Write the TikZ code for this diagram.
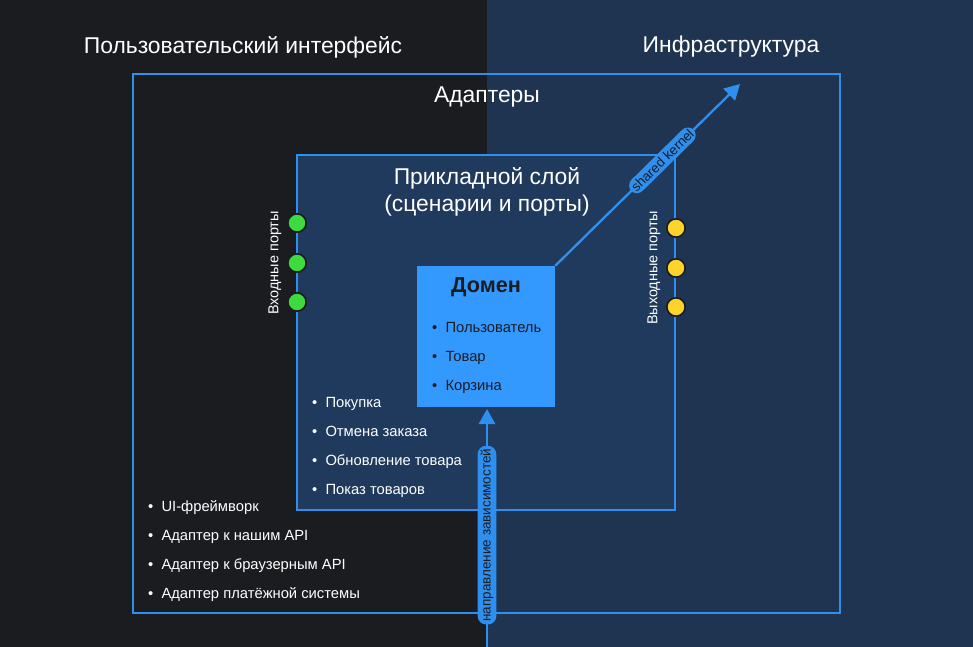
\documentclass[tikz,border=0pt]{standalone}
\usepackage{fontspec}
\setmainfont{Liberation Sans}
\usetikzlibrary{arrows.meta,positioning}
\definecolor{bgleft}{HTML}{1B1C20}
\definecolor{bgright}{HTML}{1F3450}
\definecolor{linebl}{HTML}{2F8FEF}
\definecolor{appfill}{HTML}{1F3A5C}
\definecolor{domfill}{HTML}{3399FF}
\definecolor{portg}{HTML}{3DDB3D}
\definecolor{porty}{HTML}{FFD42A}
\tikzset{
  title/.style={text=white,font=\fontsize{19.5}{23}\selectfont},
  item/.style={text=white,font=\fontsize{12.6}{14}\selectfont,anchor=base west},
  port/.style={circle,draw=bgleft,line width=1.4pt,minimum size=0.55cm,inner sep=0pt},
  tag/.style={fill=linebl,rounded corners=0.25cm,inner sep=2.5pt,text=bgleft,font=\fontsize{11.5}{12}\selectfont},
  side/.style={text=white,font=\fontsize{12.3}{14}\selectfont,rotate=90},
  wire/.style={linebl,line width=2pt}
}
\begin{document}
\begin{tikzpicture}[x=0.03cm,y=-0.03cm,>={Triangle[width=14pt,length=13pt]}]
 \useasboundingbox (0,0) rectangle (973,647);
 \fill[bgleft] (0,0) rectangle (487,647);
 \fill[bgright] (487,0) rectangle (973,647);

 % Boxes
 \draw[wire] (133,74) rectangle (840,613);
 \draw[wire,fill=appfill] (297,155) rectangle (675,510);
 \node[fill=domfill,minimum width=4.14cm,minimum height=4.23cm,inner sep=0pt] (dom) at (486,336.5) {};

 % Titles
 \node[title] (ui) at (243,47) {Пользовательский интерфейс};
 \node[title] (infra) at (731,47) {Инфраструктура};
 \node[title] (adapt) at (487,97) {Адаптеры};
 \node[title,align=center] (app) at (487,192) {Прикладной слой\\(сценарии и порты)};
 \node[text=bgleft,font=\bfseries\fontsize{18.5}{20}\selectfont] (domt) at (486,287) {Домен};

 % Lists
 \foreach \t [count=\i] in {Пользователь,Товар,Корзина}
  \node[item,text=bgleft] at (428,332+29*\i-29) {\textbullet\hspace{7pt}\t};
 \foreach \t [count=\i] in {Покупка,Отмена заказа,Обновление товара,Показ товаров}
  \node[item] at (308,407+29*\i-29) {\textbullet\hspace{7pt}\t};
 \foreach \t [count=\i] in {UI-фреймворк,Адаптер к нашим API,Адаптер к браузерным API,Адаптер платёжной системы}
  \node[item] at (144,511+29*\i-29) {\textbullet\hspace{7pt}\t};

 % Ports
 \foreach \y in {223,263,302} \node[port,fill=portg] at (297,\y) {};
 \foreach \y in {228,268,307} \node[port,fill=porty] at (676,\y) {};
 \node[side] (inp) at (275,263) {Входные порты};
 \node[side] (outp) at (654,268) {Выходные порты};

 % Arrows
 \coordinate (kend) at (740,84);
 \coordinate (dbot) at (487,647);
 \draw[->,wire] (dom.north east) -- (kend)
   node[tag,pos=0.58,sloped] {shared kernel};
 \draw[->,wire] (dbot) -- (487,409)
   node[tag,pos=0.47,sloped] {направление зависимостей};
\end{tikzpicture}
\end{document}
